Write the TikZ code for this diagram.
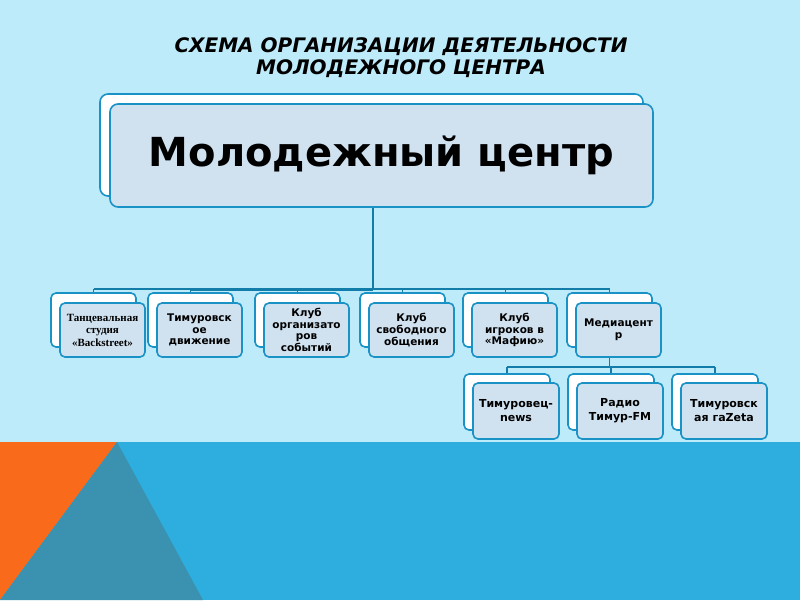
\documentclass[tikz,border=0pt]{standalone}
\usepackage{fontspec}
\setmainfont{DejaVu Sans}
\newfontfamily\serifbold{Liberation Serif}
\definecolor{bgl}{HTML}{BDEBFA}
\definecolor{bgd}{HTML}{2DAEDF}
\definecolor{orng}{HTML}{F96B1B}
\definecolor{tealtri}{HTML}{3A92B0}
\definecolor{bord}{HTML}{1A92C6}
\definecolor{conn}{HTML}{127DA8}
\definecolor{frontfill}{HTML}{D0E2F0}
\tikzset{
  backbox/.style={draw=bord, line width=1.6pt, fill=white, rounded corners=5pt, inner sep=0pt},
  frontbox/.style={draw=bord, line width=1.6pt, fill=frontfill, rounded corners=5pt, inner sep=0pt, align=center},
  conline/.style={draw=conn, line width=1.5pt},
  smalltxt/.style={font=\bfseries\fontsize{10.5}{11.8}\selectfont},
  rowtxt/.style={font=\bfseries\fontsize{11}{14}\selectfont},
}
\begin{document}
\begin{tikzpicture}[x=1pt,y=-1pt]
\useasboundingbox (0,0) rectangle (800,600);
\fill[bgl] (0,0) rectangle (800,442);
\fill[bgd] (0,442) rectangle (800,600);
\fill[orng] (0,442) -- (117,442) -- (0,600) -- cycle;
\fill[tealtri] (117,442) -- (0,600) -- (203,600) -- cycle;

% title
\node[font=\bfseries\itshape\fontsize{20}{22}\selectfont, align=center] (title) at (401,58)
  {СХЕМА ОРГАНИЗАЦИИ ДЕЯТЕЛЬНОСТИ\\МОЛОДЕЖНОГО ЦЕНТРА};

% junction coordinates
\coordinate (j1) at (373,289);
\coordinate (j2) at (609.5,367);

% main box
\node[backbox, rounded corners=8pt, minimum width=543pt, minimum height=102pt] (mainB) at (371.5,145) {};
\node[frontbox, rounded corners=8pt, minimum width=543pt, minimum height=103pt,
      font=\bfseries\fontsize{40}{44}\selectfont] (mainF) at (381.5,155.5) {Молодежный центр};

% second row back boxes
\foreach \n/\l in {1/51,2/148,3/255,4/360,5/463,6/567}{
  \node[backbox, minimum width=85pt, minimum height=54pt] (b\n) at (\l+42.5,320) {};
}
% third row back boxes
\foreach \n/\l in {1/464,2/568,3/672}{
  \node[backbox, minimum width=86pt, minimum height=56pt] (c\n) at (\l+43,402) {};
}

% connectors
\draw[conline] (j1 |- mainF.south) -- (j1);
\draw[conline] (b1.north |- j1) -- (b6.north |- j1);
\draw[conn, line width=3pt] (b2.north |- j1) -- (j1);
\foreach \n in {1,...,6}{ \draw[conline] (b\n.north |- j1) -- (b\n.north); }
\draw[conline] (c1.north |- j2) -- (c3.north |- j2);
\foreach \n in {1,2,3}{ \draw[conline] (c\n.north |- j2) -- (c\n.north); }

% second row front boxes
\node[frontbox, minimum width=85pt, minimum height=54pt,
      font=\serifbold\bfseries\fontsize{11}{12.5}\selectfont] (f1) at (51+51.5,330)
  {Танцевальная\\студия\\«Backstreet»};
\node[frontbox, minimum width=85pt, minimum height=54pt, smalltxt] (f2) at (148+51.5,330)
  {Тимуровск\\ое\\движение};
\node[frontbox, minimum width=85pt, minimum height=54pt, smalltxt] (f3) at (255+51.5,330)
  {Клуб\\организато\\ров\\событий};
\node[frontbox, minimum width=85pt, minimum height=54pt, smalltxt] (f4) at (360+51.5,330)
  {Клуб\\свободного\\общения};
\node[frontbox, minimum width=85pt, minimum height=54pt, smalltxt] (f5) at (463+51.5,330)
  {Клуб\\игроков в\\«Мафию»};
\node[frontbox, minimum width=85pt, minimum height=54pt, smalltxt] (f6) at (567+51.5,330)
  {Медиацент\\р};

\draw[conline] (b6.center |- f6.south) -- (j2);

% third row front boxes
\node[frontbox, minimum width=86pt, minimum height=56pt, rowtxt] (g1) at (464+52,411)
  {Тимуровец-\\news};
\node[frontbox, minimum width=86pt, minimum height=56pt, rowtxt] (g2) at (568+52,411)
  {Радио\\Тимур-FM};
\node[frontbox, minimum width=86pt, minimum height=56pt, rowtxt] (g3) at (672+52,411)
  {Тимуровск\\ая гaZeta};
\end{tikzpicture}
\end{document}
